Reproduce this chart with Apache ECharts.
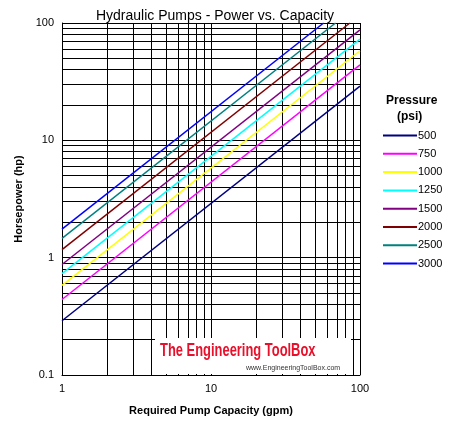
<!DOCTYPE html>
<html><head><meta charset="utf-8">
<script src="https://cdn.jsdelivr.net/npm/echarts@6/dist/echarts.min.js"></script>
<style>html,body{margin:0;background:#fff}#c{width:455px;height:441px}</style>
</head><body><div id="c"></div>
<script>
// Pressure curves, [capacity gpm, horsepower] endpoints
const pressures = ['500', '750', '1000', '1250', '1500', '2000', '2500', '3000'];
const colors = ['#000080', '#ff00ff', '#ffff00', '#00ffff', '#800080', '#800000', '#008080', '#0000ff'];
const p500 = [[1, 0.29], [100, 29]];
const p750 = [[1, 0.44], [100, 44]];
const p1000 = [[1, 0.58], [100, 58]];
const p1250 = [[1, 0.73], [100, 73]];
const p1500 = [[1, 0.875], [100, 87.5]];
const p2000 = [[1, 1.17], [85.5, 100]];
const p2500 = [[1, 1.46], [68.5, 100]];
const p3000 = [[1, 1.75], [57, 100]];
const lines = [p500, p750, p1000, p1250, p1500, p2000, p2500, p3000];

const font = 'Arial, "Liberation Sans", sans-serif';
let chart = echarts.init(document.getElementById('c'));

let axisCommon = {
    type: 'log', logBase: 10, nameLocation: 'middle',
    axisLine: {onZero: false, lineStyle: {color: '#000', width: 1}},
    axisTick: {show: false},
    axisLabel: {color: '#000', fontFamily: font, fontSize: 11},
    splitLine: {show: true, lineStyle: {color: '#000', width: 1}},
    minorTick: {show: false, splitNumber: 9},
    minorSplitLine: {show: true, lineStyle: {color: '#000', width: 1}},
    nameTextStyle: {color: '#000', fontFamily: font, fontSize: 11, fontWeight: 'bold'}
};

chart.setOption({
    animation: false,
    title: {
        text: 'Hydraulic Pumps - Power vs. Capacity', left: 210, top: 4, textAlign: 'center',
        textStyle: {fontFamily: font, fontSize: 14, fontWeight: 'normal', color: '#000'}
    },
    grid: {left: 62, top: 23, width: 298, height: 352},
    legend: {
        left: 378, top: 125, orient: 'vertical', itemGap: 7.3, itemWidth: 34, itemHeight: 12,
        icon: 'path://M0,5 L34,5 L34,7 L0,7 Z',
        textStyle: {fontFamily: font, fontSize: 11, color: '#000', padding: [0, 0, 0, -4]},
        data: pressures
    },
    graphic: [
        {type: 'text', left: 386, top: 95, style: {text: 'Pressure', font: 'bold 12px ' + font, fill: '#000'}},
        {type: 'text', left: 397, top: 111, style: {text: '(psi)', font: 'bold 12px ' + font, fill: '#000'}},
        {type: 'rect', shape: {x: 155, y: 338, width: 196, height: 36}, style: {fill: '#fff'}, z: 10},
        {type: 'text', x: 160, y: 341, scaleX: 0.68, z: 11,
            style: {text: 'The Engineering ToolBox', font: 'bold 19px ' + font, fill: '#e8102a'}},
        {type: 'text', left: 246, top: 365, z: 11,
            style: {text: 'www.EngineeringToolBox.com', font: '7px ' + font, fill: '#333'}}
    ],
    xAxis: Object.assign({}, axisCommon, {
        min: 1, max: 100, name: 'Required Pump Capacity (gpm)', nameGap: 30
    }),
    yAxis: Object.assign({}, axisCommon, {
        min: 0.1, max: 100, name: 'Horsepower (hp)', nameGap: 36
    }),
    series: lines.map((d, i) => ({
        name: pressures[i], type: 'line', data: d, symbol: 'none', z: 5,
        lineStyle: {color: colors[i], width: 1.5}, itemStyle: {color: colors[i]}
    }))
});
</script>
</body></html>
